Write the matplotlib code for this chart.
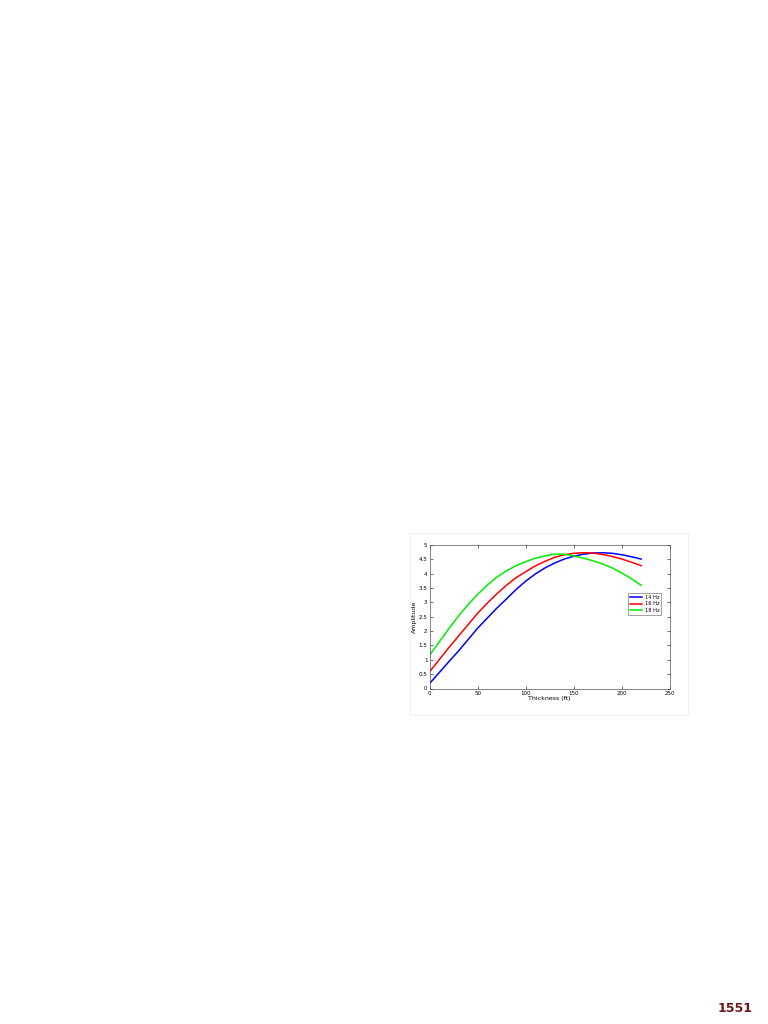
import matplotlib
matplotlib.use("Agg")
import matplotlib.pyplot as plt
from matplotlib.patches import Rectangle

# thickness in ft
thickness = [0, 10, 20, 30, 40, 50, 60, 70, 80, 90, 100, 110,
             120, 130, 140, 150, 160, 170, 180, 190, 200, 210, 220]

amp_14hz = [0.17, 0.55, 0.93, 1.30, 1.70, 2.10, 2.45, 2.80, 3.12, 3.45, 3.74, 3.99,
            4.20, 4.37, 4.51, 4.61, 4.68, 4.72, 4.73, 4.71, 4.66, 4.59, 4.51]
amp_16hz = [0.58, 1.00, 1.42, 1.82, 2.22, 2.62, 2.97, 3.30, 3.60, 3.86, 4.07, 4.27,
            4.43, 4.57, 4.66, 4.71, 4.73, 4.72, 4.67, 4.60, 4.51, 4.40, 4.28]
amp_18hz = [1.15, 1.62, 2.08, 2.52, 2.92, 3.28, 3.60, 3.88, 4.10, 4.28, 4.42, 4.54,
            4.62, 4.68, 4.68, 4.62, 4.54, 4.45, 4.34, 4.20, 4.02, 3.82, 3.60]

labels = ["14 Hz", "16 Hz", "18 Hz"]
colors = ["#0000ff", "#ff0000", "#00ee00"]

x_ticks = [0, 50, 100, 150, 200, 250]
y_ticks = [0, 0.5, 1, 1.5, 2, 2.5, 3, 3.5, 4, 4.5, 5]
y_tick_labels = ["0", "0.5", "1", "1.5", "2", "2.5", "3", "3.5", "4", "4.5", "5"]

fig = plt.figure(figsize=(7.68, 10.24), dpi=100)

# faint frame of the embedded figure
fig.patches.append(Rectangle((410 / 768, 1 - 715 / 1024), 278 / 768, 182 / 1024,
                             transform=fig.transFigure, fill=False,
                             edgecolor="#f2f2f2", linewidth=0.8))

ax = fig.add_axes([429.5 / 768, 1 - 688.5 / 1024, 240.5 / 768, 143.5 / 1024])
for y, lab, c in zip([amp_14hz, amp_16hz, amp_18hz], labels, colors):
    ax.plot(thickness, y, color=c, linewidth=1.1, label=lab)

ax.set_xlim(0, 250)
ax.set_ylim(0, 5)
ax.set_xticks(x_ticks)
ax.set_yticks(y_ticks)
ax.set_yticklabels(y_tick_labels)
ax.tick_params(direction="in", length=2, width=0.4, labelsize=4, pad=1.5,
               top=True, right=True)
for s in ax.spines.values():
    s.set_linewidth(0.5)
    s.set_color("#555555")
ax.set_xlabel("Thickness (ft)", fontsize=4.5, labelpad=0.5)
ax.set_ylabel("Amplitude", fontsize=4.5, labelpad=1)

leg = ax.legend(loc="center left", bbox_to_anchor=(0.826, 0.59), fontsize=3.7,
                frameon=True, fancybox=False, borderpad=0.4, handlelength=2.2,
                handletextpad=0.6, labelspacing=0.3, borderaxespad=0)
leg.get_frame().set_edgecolor("#333333")
leg.get_frame().set_linewidth(0.4)

fig.text(735 / 768, 1 - 1008 / 1024, "1551", fontsize=9, fontweight="bold",
         color="#6b1a1a", ha="center", va="center")

fig.savefig("out.png", dpi=100)
